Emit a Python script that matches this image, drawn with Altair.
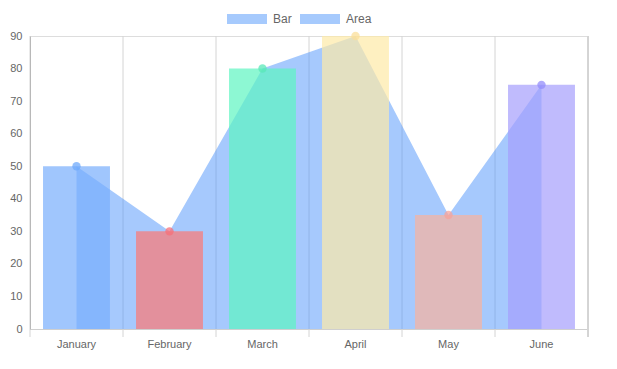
import altair as alt
import pandas as pd

months = ["January", "February", "March", "April", "May", "June"]
bar_values = [50, 30, 80, 90, 35, 75]
area_values = [50, 30, 80, 90, 35, 75]
bar_colors = ["#78aefc", "#fd7772", "#5df5c1", "#fdeaa6", "#f9b29c", "#a59efc"]
point_colors = ["#6fa9fb", "#f7707a", "#5ae8b8", "#fbdf9a", "#f7a39a", "#948dfb"]
series_names = ["Bar", "Area"]
y_ticks = [0, 10, 20, 30, 40, 50, 60, 70, 80, 90]

df = pd.DataFrame({
    "month": months,
    "bar": bar_values,
    "area": area_values,
    "barColor": bar_colors,
    "pointColor": point_colors,
})
legend_df = pd.DataFrame({"series": series_names, "v": [0, 0]})

W, H = 558, 293
xscale = alt.Scale(domain=months, paddingInner=0.28, paddingOuter=0.14)
yscale = alt.Scale(domain=[0, 90], nice=False)

x_axis = alt.Axis(title=None, labelAngle=0, ticks=False, grid=False,
                  labelPadding=9, labelFontSize=11, labelColor="#666",
                  labelFont="Liberation Sans", domainColor="#cfcfcf")
y_axis = alt.Axis(title=None, values=y_ticks, ticks=False, grid=False,
                  labelPadding=8, labelFontSize=11, labelColor="#666",
                  labelFont="Liberation Sans", domainColor="#9a9a9a",
                  labelOverlap=False)

base = alt.Chart(df)

grid = base.mark_rule(color="#d4d4d4", strokeWidth=1, xOffset=-13).encode(
    x=alt.X("month:N", bandPosition=0, scale=xscale, sort=months, axis=x_axis),
    y=alt.value(0),
    y2=alt.value(H + 8),
)
grid_end = base.mark_rule(color="#d4d4d4", strokeWidth=1).encode(
    x=alt.value(W), y=alt.value(0), y2=alt.value(H + 8)
)

area = base.mark_area(color="#4d94fb", opacity=0.5).encode(
    x=alt.X("month:N", scale=xscale, sort=months, axis=x_axis),
    y=alt.Y("area:Q", scale=yscale, axis=y_axis),
)

bars = base.mark_bar(opacity=0.7).encode(
    x=alt.X("month:N", scale=xscale, sort=months, axis=x_axis),
    y=alt.Y("bar:Q", scale=yscale, axis=y_axis),
    color=alt.Color("barColor:N", scale=None),
)

points = base.mark_circle(size=70, opacity=0.75).encode(
    x=alt.X("month:N", scale=xscale, sort=months, axis=x_axis),
    y=alt.Y("area:Q", scale=yscale, axis=y_axis),
    color=alt.Color("pointColor:N", scale=None),
)

legend_layer = alt.Chart(legend_df).mark_point(opacity=0).encode(
    y=alt.Y("v:Q", scale=yscale, axis=y_axis),
    fill=alt.Fill("series:N", sort=series_names,
                  scale=alt.Scale(domain=series_names, range=["#a6cafd", "#a6cafd"]),
                  legend=alt.Legend(title=None, orient="none", direction="horizontal",
                                    legendX=197, legendY=-37,
                                    symbolType="M-1,-0.25H1V0.25H-1Z", symbolSize=1600,
                                    symbolStrokeWidth=0, symbolOpacity=1,
                                    labelFontSize=12, labelColor="#666",
                                    labelFont="Liberation Sans", columnPadding=8,
                                    labelOffset=6)),
)

chart = alt.layer(grid, grid_end, area, bars, points, legend_layer).properties(
    width=W, height=H,
    autosize=alt.AutoSizeParams(type="none"),
    padding={"left": 30, "top": 36, "right": 29, "bottom": 40},
).configure_view(stroke=None).configure(background="white")

chart.save("out.html", embed_options={"renderer": "svg", "actions": False})
